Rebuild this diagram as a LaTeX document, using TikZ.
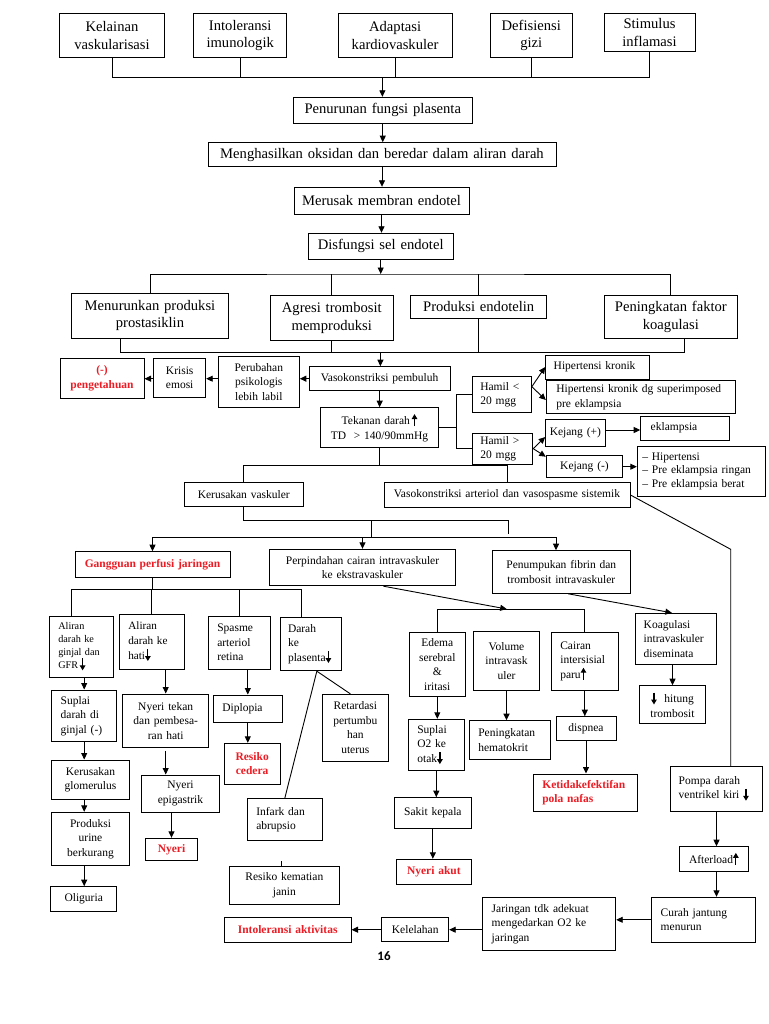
\documentclass[tikz,border=0pt]{standalone}
\usepackage{fontspec}
\setmainfont{Liberation Serif}
\newfontfamily\pgnumfont{Carlito}
\usetikzlibrary{arrows.meta}
\definecolor{rd}{RGB}{237,28,36}
\newcommand\smfont{\fontsize{11.5}{14.5}\selectfont}
\newcommand\bigfont{\fontsize{14.6}{17.5}\selectfont}
\newcommand\uparr{\tikz[baseline=0pt,x=1pt,y=1pt]{\draw[line width=1.3pt,-{Triangle[length=5pt,width=5.5pt]}] (0,-1.5) -- (0,10.5);}}
\newcommand\dnarr{\tikz[baseline=0pt,x=1pt,y=1pt]{\draw[line width=1.3pt,-{Triangle[length=5pt,width=5.5pt]}] (0,10) -- (0,-2);}}
\newcommand\bx[8]{%
  \pgfmathsetmacro\bxw{#6-#4}%
  \pgfmathsetmacro\bxh{#7-#5}%
  \pgfmathsetmacro\bxt{#6-#4-2*#3}%
  \node[bxs,inner xsep=#3pt,#2,minimum width=\bxw pt,minimum height=\bxh pt,text width=\bxt pt] (#1) at ({(#4+#6)/2},{(#5+#7)/2}) {#8};}
\begin{document}
\begin{tikzpicture}[x=1pt,y=-1pt,line width=0.9pt,
  bxs/.style={draw,line width=1.0pt,inner ysep=0pt,align=center,font=\smfont},
  fbig/.style={font=\bigfont},
  lft/.style={align=left},
  redt/.style={text=rd,font=\smfont\bfseries},
  fsmall/.style={font=\fontsize{10.2}{13}\selectfont},
  fmid/.style={font=\fontsize{11.2}{14.7}\selectfont},
  flist/.style={font=\fontsize{11.5}{13.4}\selectfont},
  arr/.style={-{Triangle[length=6.5pt,width=6pt]}}]
\fill[white] (0,0) rectangle (768,1024);
\useasboundingbox (0,0) rectangle (768,1024);

% top
\bx{kel}{fbig}{2}{59.8}{13.3}{164.2}{57.3}{Kelainan\\vaskularisasi}
\bx{intol}{fbig}{2}{193.6}{13.3}{286.8}{57.3}{Intoleransi\\imunologik}
\bx{adap}{fbig}{2}{338.2}{13.3}{452}{57.3}{Adaptasi\\kardiovaskuler}
\bx{def}{fbig}{2}{490}{13.3}{572.5}{57.3}{Defisiensi\\gizi}
\bx{stim}{fbig}{2}{604}{13.3}{695}{52}{Stimulus\\inflamasi}
\bx{pen}{fbig}{2}{293}{97.3}{472.5}{123.3}{Penurunan fungsi plasenta}
\bx{meng}{fbig}{2}{208}{142.7}{556}{167}{Menghasilkan oksidan dan beredar dalam aliran darah}
\bx{meru}{fbig}{2}{294}{187.3}{469}{214.3}{Merusak membran endotel}
\bx{dis}{fbig}{2}{308}{233.3}{453.4}{259.3}{Disfungsi sel endotel}
\bx{menu}{fbig}{2}{71.6}{293.3}{228.4}{338}{Menurunkan produksi\\prostasiklin}
\bx{agr}{fbig}{2}{270}{295.7}{393.6}{340.3}{Agresi trombosit\\memproduksi}
\bx{prod}{fbig}{2}{410.8}{295.7}{546.6}{318}{Produksi endotelin}
\bx{pening}{fbig}{2}{604}{295.7}{737.7}{338}{Peningkatan faktor\\koagulasi}

% middle
\bx{pengt}{redt}{2}{60}{358.3}{144}{398.3}{(-)\\pengetahuan}
\bx{kris}{}{2}{153.7}{358}{205.7}{397.3}{Krisis\\emosi}
\bx{perub}{}{2}{218.3}{356}{299.3}{407.7}{Perubahan\\psikologis\\lebih labil}
\bx{vasop}{}{2}{309.3}{366.7}{450}{390.7}{Vasokonstriksi pembuluh}
\bx{tek}{}{2}{320.7}{407.7}{438.3}{447.3}{Tekanan darah\,\uparr\\TD\ \ > 140/90mmHg}
\bx{hamil1}{lft}{8}{472.3}{376.7}{531.3}{412.7}{Hamil <\\20 mgg}
\bx{hamil2}{lft}{8}{472.3}{433.3}{532.7}{464}{Hamil >\\20 mgg}
\bx{hk}{lft}{8}{545.7}{355}{649}{379}{Hipertensi kronik}
\bx{hkdg}{lft}{10}{546.3}{380.7}{735}{413.3}{Hipertensi kronik dg superimposed\\pre eklampsia}
\bx{kejp}{}{2}{545.7}{419.3}{605}{446.7}{Kejang (+)}
\bx{kejm}{}{2}{546.3}{455.7}{622.7}{477.7}{Kejang (-)}
\bx{ekl}{lft}{10}{640.7}{416}{729}{440}{eklampsia}
\bx{list}{lft,flist}{5}{637.3}{446}{765.7}{496.7}{– Hipertensi\\– Pre eklampsia ringan\\– Pre eklampsia berat}
\bx{kerus}{}{2}{184.3}{482.3}{303.3}{506}{Kerusakan vaskuler}
\bx{varter}{}{2}{384}{482.7}{630}{507.3}{Vasokonstriksi arteriol dan vasospasme sistemik}
\bx{gang}{redt}{2}{75}{551.7}{230}{577.3}{Gangguan perfusi jaringan}
\bx{perp}{}{2}{269.3}{549.3}{455.7}{585.7}{Perpindahan cairan intravaskuler\\ke ekstravaskuler}
\bx{penum}{}{2}{492.3}{550.7}{630.3}{593.3}{Penumpukan fibrin dan\\trombosit intravaskuler}

% lower left
\bx{al1}{lft,fsmall}{9}{49.3}{616}{113.3}{677.3}{Aliran\\darah ke\\ginjal dan\\GFR\,\dnarr}
\bx{al2}{lft,fmid}{9}{119.3}{614.3}{184.3}{669.3}{Aliran\\darah ke\\hati\dnarr}
\bx{spas}{lft}{9}{208.3}{616}{270}{669.3}{Spasme\\arteriol\\retina}
\bx{darah}{lft}{8}{280}{617}{341.7}{670.7}{Darah\\ke\\plasenta\dnarr}
\bx{sup}{lft}{9}{51.7}{690}{116.7}{741.7}{Suplai\\darah di\\ginjal (-)}
\bx{kg}{}{2}{51.7}{760}{129.3}{799}{Kerusakan\\glomerulus}
\bx{produ}{}{2}{51.7}{812.3}{129.3}{865.3}{Produksi\\urine\\berkurang}
\bx{olig}{}{2}{50.7}{886.7}{116.7}{911}{Oliguria}
\bx{nyt}{}{2}{122.7}{694}{208.7}{747.3}{Nyeri tekan\\dan pembesa-\\ran hati}
\bx{nye}{}{2}{141.7}{775}{219.3}{812.3}{Nyeri\\epigastrik}
\bx{nyeri}{redt}{2}{145.7}{838.3}{197.3}{860.7}{Nyeri}
\bx{dipl}{lft}{9}{213.3}{695}{282.3}{722.7}{Diplopia}
\bx{resc}{redt}{2}{224.3}{743.3}{280}{784.3}{Resiko\\cedera}
\bx{retard}{}{2}{322.3}{694.3}{388.3}{761}{Retardasi\\pertumbu\\han\\uterus}
\bx{infark}{lft}{9}{247.3}{798.7}{322.3}{840.7}{Infark dan\\abrupsio}
\bx{rkj}{}{2}{229.3}{866}{339.3}{904.3}{Resiko kematian\\janin}
\bx{into}{redt}{2}{224.3}{917.7}{351}{942.3}{Intoleransi aktivitas}

% lower right
\bx{edema}{}{2}{409.3}{632.3}{465.3}{696.7}{Edema\\serebral\\\&\\iritasi}
\bx{vol}{}{2}{473.7}{631.3}{539.3}{690}{Volume\\intravask\\uler}
\bx{cair}{lft}{9}{551.3}{632.3}{618.3}{690}{Cairan\\intersisial\\paru\uparr}
\bx{koag}{lft}{8}{635.7}{613.3}{716}{664.3}{Koagulasi\\intravaskuler\\diseminata}
\bx{hit}{}{2}{639.3}{685.7}{705.7}{723.3}{\dnarr\ \ hitung\\trombosit}
\bx{supo}{lft}{9}{408.3}{719.3}{464.3}{770.7}{Suplai\\O2 ke\\otak\dnarr}
\bx{hem}{lft}{9}{469.3}{720.7}{550.7}{759.3}{Peningkatan\\hematokrit}
\bx{disp}{}{2}{556}{716.7}{616}{740}{dispnea}
\bx{ketid}{redt,lft}{9}{533.3}{774}{637.3}{811}{Ketidakefektifan\\pola nafas}
\bx{sakit}{}{2}{394}{797.7}{471.7}{828.3}{Sakit kepala}
\bx{nyak}{redt}{2}{396}{859.3}{471.7}{884.3}{Nyeri akut}
\bx{pompa}{lft}{8}{670.7}{766.7}{762.3}{811}{Pompa darah\\ventrikel kiri\ \dnarr}
\bx{after}{}{2}{679.3}{846.7}{748.3}{871}{Afterload\uparr}
\bx{curah}{lft}{9}{651.7}{897.3}{755.7}{942.3}{Curah jantung\\menurun}
\bx{jar}{lft}{9}{482.7}{897.7}{615.7}{950}{Jaringan tdk adekuat\\mengedarkan O2 ke\\jaringan}
\bx{kelel}{}{2}{381.7}{917.7}{448.7}{941.7}{Kelelahan}

\node[font=\pgnumfont\bfseries\fontsize{13}{15}\selectfont] (pg) at (384,956) {16};

% coordinates
\coordinate (b1) at (382.4,77.3);
\coordinate (b2) at (381,274);
\coordinate (b3) at (380.4,352);
\coordinate (b3l) at (120.7,352);
\coordinate (b3r) at (684.8,352);
\coordinate (b4) at (382,465);
\coordinate (hb) at (456.7,427.5);
\coordinate (b5a) at (508,520);
\coordinate (b5s) at (508,534);
\coordinate (b5m) at (371.7,520);
\coordinate (b6) at (371.7,537.3);
\coordinate (b6r) at (556,537.3);
\coordinate (b7) at (151,589.3);
\coordinate (b7l) at (71.7,589.3);
\coordinate (b7r) at (301.7,589.3);
\coordinate (dgo) at (730.7,549.3);
\coordinate (b8tip) at (506.7,609);

% top connectors
\draw (kel.south) |- (b1) -| (stim.south);
\draw (intol.south) -- (intol.south |- b1);
\draw (adap.south) -- (adap.south |- b1);
\draw (def.south) -- (def.south |- b1);
\draw[arr] (b1) -- (b1 |- pen.north);
\draw[arr] (pen.south) -- (pen.south |- meng.north);
\draw[arr] (meng.south) -- (meng.south |- meru.north);
\draw[arr] (meru.south) -- (meru.south |- dis.north);
\draw[arr] (dis.south) -- (dis.south |- b2);
\draw (menu.north) |- (b2) -| (pening.north);
\draw (agr.north) -- (agr.north |- b2);
\draw (prod.north) -- (prod.north |- b2);
\draw (menu.south -| b3l) -- (b3l) -- (b3r) -- (pening.south -| b3r);
\draw (agr.south) -- (agr.south |- b3);
\draw (prod.south) -- (prod.south |- b3);
\draw[arr] (b3) -- (b3 |- vasop.north);

% middle connectors
\draw[arr] (vasop.west) -- (vasop.west -| perub.east);
\draw[arr] (perub.west |- vasop.west) -- (kris.east |- vasop.west);
\draw[arr] (kris.west |- vasop.west) -- (pengt.east |- vasop.west);
\draw[arr] (vasop.south) -- (vasop.south |- tek.north);
\draw (tek.east) -- (tek.east -| hb);
\draw (hamil1.west) -- (hamil1.west -| hb) -- (hamil2.west -| hb) -- (hamil2.west);
\draw[arr] ([yshift=8pt]hamil1.east) -- (hk.west);
\draw[arr] ([yshift=8pt]hamil1.east) -- ([yshift=-3pt]hkdg.west);
\draw[arr] (hamil2.east) -- ([yshift=-4pt]kejp.west);
\draw[arr] (hamil2.east) -- ([yshift=10pt]kejm.west);
\draw[arr] ([yshift=3pt]kejp.east) -- ([yshift=3pt]kejp.east -| ekl.west);
\draw[arr] (kejm.east) -- (kejm.east -| list.west);
\draw (tek.south) -- (tek.south |- b4);
\draw (kerus.north) -- (kerus.north |- b4) -- (varter.north |- b4) -- (varter.north);
\draw (varter.east) -- (dgo) -- (dgo |- pompa.north);
\draw (kerus.south) -- (kerus.south |- b5a) -- (b5a) -- (b5s);
\draw (b5m) -- (b6);
\draw (gang.north |- b6) -- (b6r);
\draw[arr] (gang.north |- b6) -- (gang.north);
\draw[arr] (perp.north |- b6) -- (perp.north);
\draw[arr] (b6r) -- (b6r |- penum.north);

% lower left connectors
\draw (gang.south) -- (gang.south |- b7);
\draw (al1.north -| b7l) -- (b7l) -- (b7r) -- (darah.north -| b7r);
\draw (al2.north) -- (al2.north |- b7);
\draw (spas.north) -- (spas.north |- b7);
\draw[arr] (sup.north |- al1.south) -- (sup.north);
\draw[arr] (nyt.north |- al2.south) -- (nyt.north);
\draw[arr] (dipl.north |- spas.south) -- (dipl.north);
\draw ([xshift=6pt]darah.south) -- ([xshift=-5pt]retard.north);
\draw ([xshift=6pt]darah.south) -- (infark.north);
\draw[arr] (sup.south) -- (sup.south |- kg.north);
\draw[arr] (sup.south |- kg.south) -- (sup.south |- produ.north);
\draw[arr] (sup.south |- produ.south) -- (sup.south |- olig.north);
\draw[arr] ([yshift=-3pt]nyt.south) -- (nyt.south |- nye.north);
\draw[arr] (nyeri.north |- nye.south) -- (nyeri.north);
\draw[arr] (dipl.south) -- (dipl.south |- resc.north);
\draw ([xshift=-3pt]rkj.north) -- ([xshift=-3pt,yshift=4.5pt]rkj.north);
\draw[arr] (kelel.west) -- (kelel.west -| into.east);

% lower right connectors
\draw[arr] ([xshift=21pt]perp.south) -- (b8tip);
\draw (edema.north) -- (edema.north |- b8tip) -- (cair.north |- b8tip) -- (cair.north);
\draw[arr] ([xshift=7pt]penum.south) -- ([xshift=-4pt]koag.north);
\draw[arr] (hit.north |- koag.south) -- (hit.north);
\draw[arr] (edema.south) -- (edema.south |- supo.north);
\draw[arr,line width=1.6pt] (vol.south) -- (vol.south |- hem.north);
\draw[arr] (cair.south) -- (cair.south |- disp.north);
\draw[arr] (disp.south) -- (disp.south |- ketid.north);
\draw[arr] (supo.south) -- (supo.south |- sakit.north);
\draw[arr] (sakit.south) -- (sakit.south |- nyak.north);
\draw[arr] (pompa.south) -- (pompa.south |- after.north);
\draw[arr] (pompa.south |- after.south) -- (pompa.south |- curah.north);
\draw[arr] (curah.west) -- (curah.west -| jar.east);
\draw[arr] (jar.west |- kelel.east) -- (kelel.east);
\end{tikzpicture}
\end{document}
